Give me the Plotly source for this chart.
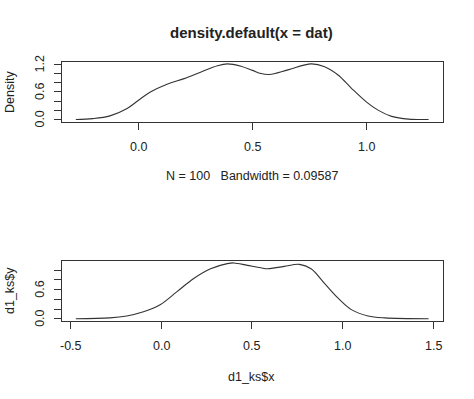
import plotly.graph_objects as go

# Top panel: density.default(x = dat)
top_x = [-0.275, -0.2, -0.125, -0.05, 0.0, 0.052, 0.125, 0.2, 0.272, 0.346, 0.39, 0.449,
         0.5, 0.537, 0.574, 0.655, 0.757, 0.816, 0.875, 0.934, 1.0, 1.052, 1.11, 1.184, 1.272]
top_y = [0.003, 0.02, 0.08, 0.24, 0.42, 0.60, 0.77, 0.89, 1.03, 1.17, 1.21, 1.16,
         1.07, 1.0, 0.98, 1.08, 1.21, 1.15, 0.97, 0.68, 0.38, 0.20, 0.07, 0.01, 0.002]

# Bottom panel: d1_ks
bot_x = [-0.471, -0.283, -0.19, -0.098, -0.006, 0.087, 0.179, 0.272, 0.364, 0.40, 0.475,
         0.549, 0.586, 0.678, 0.762, 0.826, 0.90, 0.974, 1.048, 1.14, 1.233, 1.474]
bot_y = [0.002, 0.02, 0.06, 0.145, 0.29, 0.56, 0.83, 1.03, 1.135, 1.15, 1.10,
         1.05, 1.03, 1.08, 1.12, 1.03, 0.73, 0.43, 0.19, 0.06, 0.02, 0.002]

top_xticks = [0.0, 0.5, 1.0]
top_yticks = [0.0, 0.2, 0.4, 0.6, 0.8, 1.0, 1.2]
top_ylabels = ["0.0", "", "", "0.6", "", "", "1.2"]
bot_xticks = [-0.5, 0.0, 0.5, 1.0, 1.5]
bot_yticks = [0.0, 0.2, 0.4, 0.6, 0.8, 1.0]
bot_ylabels = ["0.0", "", "", "0.6", "", ""]

title_text = "density.default(x = dat)"
top_xlab = "N = 100   Bandwidth = 0.09587"
top_ylab = "Density"
bot_xlab = "d1_ks$x"
bot_ylab = "d1_ks$y"

W, H = 474, 399
FONT = "Liberation Sans, Arial, sans-serif"
INK = "#333333"
TXT = "#222222"


def rlim(v):
    lo, hi = min(v), max(v)
    d = (hi - lo) * 0.04
    return [lo - d, hi + d]


def px(x0, x1):
    return [x0 / W, x1 / W]


def py(y_top, y_bot):
    return [1 - y_bot / H, 1 - y_top / H]


fig = go.Figure()
line = dict(color=INK, width=1.1)
fig.add_trace(go.Scatter(x=top_x, y=top_y, mode="lines", line=dict(**line, shape="spline"),
                         xaxis="x", yaxis="y", showlegend=False, hoverinfo="skip"))
fig.add_trace(go.Scatter(x=bot_x, y=bot_y, mode="lines", line=dict(**line, shape="spline"),
                         xaxis="x2", yaxis="y2", showlegend=False, hoverinfo="skip"))

axcommon = dict(showline=True, mirror=True, linecolor=INK, linewidth=1, ticks="outside",
                ticklen=7, tickcolor=INK, tickwidth=1, showgrid=False, zeroline=False,
                automargin=False, showticklabels=False, fixedrange=True)

fig.update_layout(
    width=W, height=H, margin=dict(l=0, r=0, t=0, b=0),
    paper_bgcolor="white", plot_bgcolor="white",
    xaxis=dict(domain=px(61.7, 442.7), range=rlim(top_x), anchor="y",
               tickvals=top_xticks, **axcommon),
    yaxis=dict(domain=py(61.7, 121.7), range=rlim(top_y), anchor="x",
               tickvals=top_yticks, **axcommon),
    xaxis2=dict(domain=px(61.7, 442.7), range=rlim(bot_x), anchor="y2",
                tickvals=bot_xticks, **axcommon),
    yaxis2=dict(domain=py(260.7, 321.0), range=rlim(bot_y), anchor="x2",
                tickvals=bot_yticks, **axcommon),
)

ann = []
def label(text, x, y, size=12.5, bold=False, angle=0, xref="paper", yref="paper"):
    t = f"<b>{text}</b>" if bold else text
    ax = x / W if xref == "paper" else x
    ay = 1 - y / H if yref == "paper" else y
    ann.append(dict(text=t, x=ax, y=ay, xref=xref, yref=yref,
                    showarrow=False, textangle=angle, xanchor="center", yanchor="middle",
                    font=dict(family=FONT, size=size, color=TXT)))

label(title_text, 252, 33, size=15, bold=True)
label(top_xlab, 252, 176)
label(top_ylab, 10, 92, angle=-90)
label(bot_xlab, 252, 377)
label(bot_ylab, 10, 291, angle=-90)

# tick labels (R style: parallel to axis)
for v in top_xticks:
    label(f"{v:.1f}", v, 146.7, xref="x")
for v, t in zip(top_yticks, top_ylabels):
    if t:
        label(t, 40, v, angle=-90, yref="y")
for v in bot_xticks:
    label(f"{v:.1f}", v, 345.7, xref="x2")
for v, t in zip(bot_yticks, bot_ylabels):
    if t:
        label(t, 40, v, angle=-90, yref="y2")

fig.update_layout(annotations=ann)

fig.write_html("out.html", config={"displayModeBar": False},
               post_script="document.body.style.margin='0';document.body.style.padding='0';")
